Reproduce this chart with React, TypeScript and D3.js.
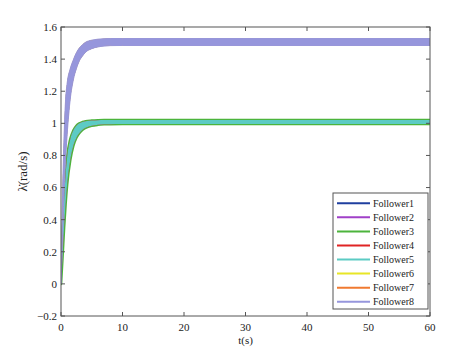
import React from "react";
import * as d3 from "d3";

// time samples (s)
const time = [0, 0.25, 0.5, 0.75, 1, 1.5, 2, 2.5, 3, 3.5, 4, 5, 6, 7, 8, 10, 60];
// envelope of followers converging to 1 rad/s
const lowUpper = [0, 0.3, 0.52, 0.68, 0.79, 0.9, 0.955, 0.985, 1.0, 1.008, 1.013, 1.017, 1.019, 1.02, 1.02, 1.02, 1.02];
const lowLower = [0, 0.17, 0.35, 0.5, 0.62, 0.77, 0.86, 0.91, 0.94, 0.96, 0.972, 0.985, 0.991, 0.994, 0.995, 0.996, 0.996];
// envelope of followers converging to 1.5 rad/s
const highUpper = [0, 0.55, 0.92, 1.15, 1.25, 1.34, 1.395, 1.44, 1.47, 1.49, 1.505, 1.518, 1.524, 1.527, 1.528, 1.528, 1.528];
const highLower = [0, 0.3, 0.58, 0.78, 0.93, 1.15, 1.27, 1.34, 1.39, 1.42, 1.443, 1.465, 1.476, 1.481, 1.484, 1.485, 1.485];

const followers = ["Follower1", "Follower2", "Follower3", "Follower4", "Follower5", "Follower6", "Follower7", "Follower8"];
const followerGroup = ["low", "low", "low", "low", "low", "high", "high", "high"];
const colors = ["#1f3f9f", "#a040c8", "#4cb43c", "#e02424", "#5ccbc4", "#e8e626", "#f07a30", "#9696dc"];

const xTicks = [0, 10, 20, 30, 40, 50, 60];
const yTicks = [-0.2, 0, 0.2, 0.4, 0.6, 0.8, 1, 1.2, 1.4, 1.6];

export default function App() {
  const W = 474, H = 356;
  const left = 61, right = 430, top = 27, bottom = 316;
  const x = d3.scaleLinear().domain([0, 60]).range([left, right]);
  const y = d3.scaleLinear().domain([-0.2, 1.6]).range([bottom, top]);

  const bands = {
    low: time.map((t, i) => ({ t, hi: lowUpper[i], lo: lowLower[i] })),
    high: time.map((t, i) => ({ t, hi: highUpper[i], lo: highLower[i] })),
  };
  const area = d3
    .area<{ t: number; hi: number; lo: number }>()
    .x((d) => x(d.t))
    .y0((d) => y(d.lo))
    .y1((d) => y(d.hi))
    .curve(d3.curveMonotoneX);

  const axisColor = "#555";
  const font = "Liberation Serif, Times New Roman, serif";
  const tick = 4;

  const legX = 333, legY = 193, legW = 95, legH = 116;
  const legRow = 14.06;

  return (
    <svg width={W} height={H} style={{ position: "absolute", left: 0, top: 0, background: "#fff" }} fontFamily={font}>
      <rect x={0} y={0} width={W} height={H} fill="#fff" />
      <defs>
        <clipPath id="plotclip">
          <rect x={left} y={top} width={right - left} height={bottom - top} />
        </clipPath>
      </defs>
      <g clipPath="url(#plotclip)">
        {followers.map((f, i) => {
          const g = followerGroup[i];
          const isGreen = i === 2;
          const visibleEdge = isGreen || i === 7;
          return (
            <path
              key={f}
              d={area(bands[g]) || ""}
              fill={colors[i]}
              stroke={visibleEdge ? colors[i] : "none"}
              strokeWidth={isGreen ? 2.6 : 1}
              strokeLinejoin="round"
            />
          );
        })}
      </g>

      {/* ticks */}
      {xTicks.map((t) => (
        <g key={"x" + t}>
          <line x1={x(t)} x2={x(t)} y1={bottom} y2={bottom - tick} stroke={axisColor} />
          <line x1={x(t)} x2={x(t)} y1={top} y2={top + tick} stroke={axisColor} />
          <text x={x(t)} y={331} fontSize={11} textAnchor="middle" fill="#222">
            {t}
          </text>
        </g>
      ))}
      {yTicks.map((v) => (
        <g key={"y" + v}>
          <line x1={left} x2={left + tick} y1={y(v)} y2={y(v)} stroke={axisColor} />
          <line x1={right} x2={right - tick} y1={y(v)} y2={y(v)} stroke={axisColor} />
          <text x={57} y={y(v)} dy="0.35em" fontSize={11} textAnchor="end" fill="#222">
            {v < 0 ? "\u2212" + Math.abs(v) : String(v)}
          </text>
        </g>
      ))}

      {/* legend */}
      <rect x={legX} y={legY} width={legW} height={legH} fill="#fff" stroke={axisColor} strokeWidth={1} />
      {followers.map((f, i) => (
        <g key={"leg" + f}>
          <line
            x1={legX + 4}
            x2={legX + 37}
            y1={legY + 10.3 + i * legRow}
            y2={legY + 10.3 + i * legRow}
            stroke={colors[i]}
            strokeWidth={2}
          />
          <text x={legX + 40} y={legY + 10.3 + i * legRow} dy="0.35em" fontSize={10} fill="#222">
            {f}
          </text>
        </g>
      ))}

      {/* box */}
      <rect x={left} y={top} width={right - left} height={bottom - top} fill="none" stroke={axisColor} strokeWidth={1} />

      {/* axis labels */}
      <text x={x(30)} y={344} fontSize={11} textAnchor="middle" fill="#222">
        t(s)
      </text>
      <text transform={`translate(27, ${(top + bottom) / 2}) rotate(-90)`} fontSize={13} textAnchor="middle" fill="#222">
        {"\u03BB\u0307(rad/s)"}
      </text>
    </svg>
  );
}
